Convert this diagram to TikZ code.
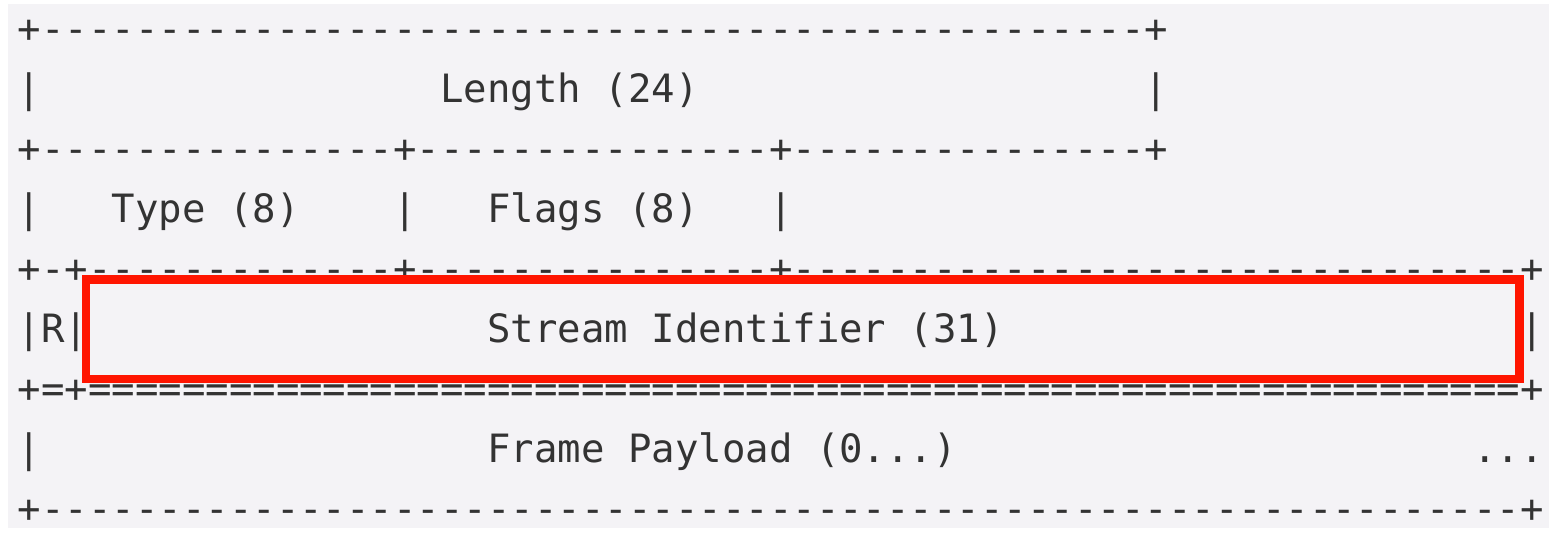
\documentclass[tikz,border=0pt]{standalone}
\usepackage{fontspec}
\setmonofont{DejaVu Sans Mono}
\definecolor{bgc}{HTML}{F4F3F6}
\definecolor{ink}{HTML}{333333}
\definecolor{hlred}{HTML}{FF1500}
\ExplSyntaxOn
\cs_new:Npn \myrep #1#2 { \prg_replicate:nn {#1} {#2} }
\ExplSyntaxOff
\begin{document}
\begin{tikzpicture}[x=0.5pt,y=-0.5pt,
  asc/.style={anchor=base west,inner sep=0pt,outer sep=0pt,text=ink,
    font=\ttfamily\fontsize{19.5pt}{22pt}\selectfont\frenchspacing}]
\useasboundingbox (0,0) rectangle (1557,536);
\fill[white] (0,0) rectangle (1557,536);
\fill[bgc] (8,4) rectangle (1549,528);
\def\xs{17.75}
\node[asc] (r1) at (\xs,42)  {+\myrep{47}{-}+};
\node[asc] (r2) at (\xs,102) {|\myrep{17}{~}Length~(24)\myrep{19}{~}|};
\node[asc] (r3) at (\xs,162) {+\myrep{15}{-}+\myrep{15}{-}+\myrep{15}{-}+};
\node[asc] (r4) at (\xs,222) {|~~~Type~(8)~~~~|~~~Flags~(8)~~~|};
\node[asc] (r5) at (\xs,282) {+-+\myrep{13}{-}+\myrep{15}{-}+\myrep{31}{-}+};
\node[asc] (r6) at (\xs,342) {|R|\myrep{17}{~}Stream~Identifier~(31)\myrep{22}{~}|};
\node[asc] (r7) at (\xs,402) {+=+\myrep{61}{=}+};
\node[asc] (r8) at (\xs,462) {|\myrep{19}{~}Frame~Payload~(0...)\myrep{22}{~}...};
\node[asc] (r9) at (\xs,522) {+\myrep{63}{-}+};
\draw[hlred,line width=4.25pt] (86,279.5) rectangle (1519.5,379);
\end{tikzpicture}
\end{document}
